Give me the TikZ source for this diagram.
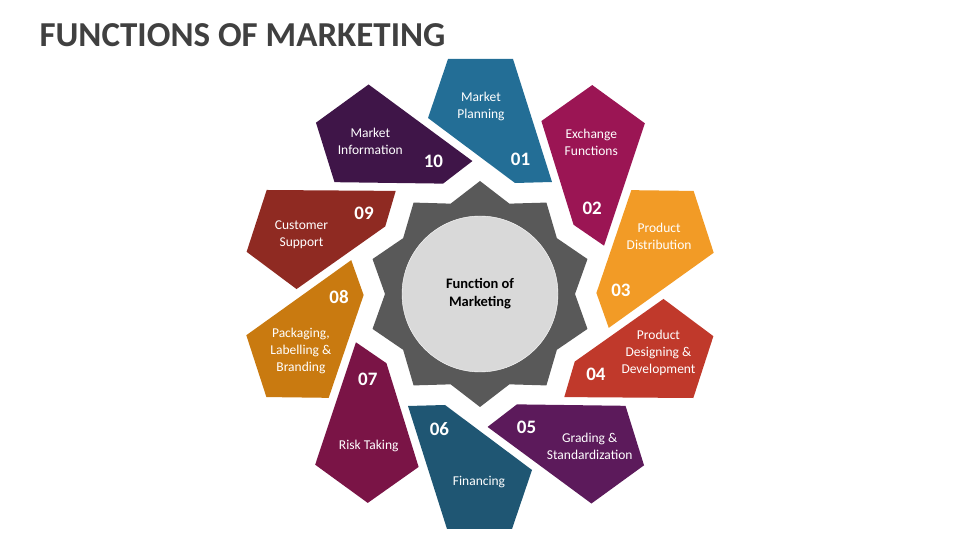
\documentclass[tikz,border=0pt]{standalone}
\usepackage{fontspec}
\setmainfont{Carlito}
\usetikzlibrary{positioning}
\definecolor{c01}{HTML}{236E96}
\definecolor{c02}{HTML}{9B1554}
\definecolor{c03}{HTML}{F29B26}
\definecolor{c04}{HTML}{C0392B}
\definecolor{c05}{HTML}{5C1A5B}
\definecolor{c06}{HTML}{1F5673}
\definecolor{c07}{HTML}{7A1446}
\definecolor{c08}{HTML}{C97A10}
\definecolor{c09}{HTML}{8F2A22}
\definecolor{c10}{HTML}{3F1548}
\definecolor{titlegray}{HTML}{404040}
\tikzset{
  petaltext/.style={text=white, align=center, font=\fontsize{13.5}{17}\selectfont},
  petalnum/.style={text=white, font=\bfseries\fontsize{19}{20}\selectfont},
}
\begin{document}
\begin{tikzpicture}[x=1pt,y=1pt]
  \useasboundingbox (0,0) rectangle (960,540);
  \node[anchor=west, text=titlegray, font=\bfseries\fontsize{35}{38}\selectfont] (title) at (36,505) {FUNCTIONS OF MARKETING};
  % petals
  \foreach \k/\col/\num/\txt in {0/c01/01/{Market\\Planning}, 1/c02/02/{Exchange\\Functions},
      2/c03/03/{Product\\Distribution}, 3/c04/04/{Product\\Designing \&\\Development},
      4/c05/05/{Grading \&\\Standardization}, 5/c06/06/{Financing}, 6/c07/07/{Risk Taking},
      7/c08/08/{Packaging,\\Labelling \&\\Branding}, 8/c09/09/{Customer\\Support},
      9/c10/10/{Market\\Information}}{
    \begin{scope}[shift={(480,246)}, rotate=-36*\k]
      \fill[\col] (-32,235) -- (33,235) -- (72,112) -- (35,111) -- (-52,176) -- cycle;
    \end{scope}
    \node[petaltext] (lab\num) at ([shift={(480,246)}]{89.7-36*\k}:188) {\txt};
    \node[petalnum] (num\num) at ([shift={(480,246)}]{73.3-36*\k}:141) {\num};
  }
  % gear
  \fill[black!65] (90:113) ++(480,246) \foreach \i in {0,...,9}{
      -- ([shift={(480,246)}]{90+36*\i}:113) -- ([shift={(480,246)}]{108+36*\i}:95)} -- cycle;
  \node[circle, fill=black!15, draw=white, minimum size=156, align=center,
    font=\bfseries\fontsize{14.5}{18}\selectfont] (hub) at (480,246) {Function of\\Marketing};
\end{tikzpicture}
\end{document}
